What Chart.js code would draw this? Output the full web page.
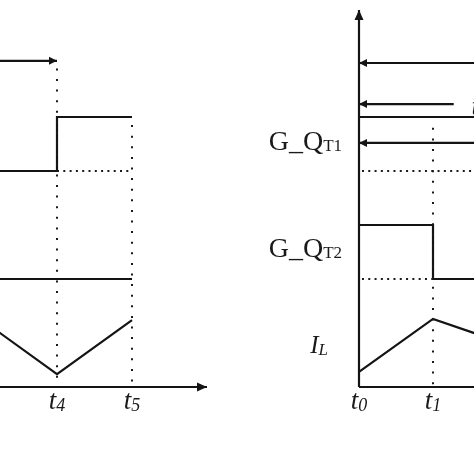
<!DOCTYPE html>
<html>
<head>
<meta charset="utf-8">
<script src="https://cdn.jsdelivr.net/npm/chart.js@4/dist/chart.umd.min.js"></script>
<style>
html,body{margin:0;padding:0;background:#fff;}
#wrap{width:474px;height:474px;}
canvas{display:block;}
</style>
</head>
<body>
<div id="wrap"><canvas id="c" width="474" height="474"></canvas></div>
<script>
// ---------- data (time in switching instants, level in signal units) ----------
// left diagram (ends at t5)
const leftT      = [3, 4, 5];            // t3, t4, t5
const leftGQT1   = [4, 5, 5];            // G_QT1 level at each instant (step)
const leftGQT2   = [2, 2, 2];            // G_QT2 level
const leftIL     = [1.24, 0.24, 1.24];   // inductor current
const leftTicks  = [4, 5];
const leftTickLabels = ['4', '5'];
// right diagram (starts at t0)
const rightT     = [0, 1, 2];            // t0, t1, t2
const rightGQT1  = [5, 5, 5];
const rightGQT2  = [3, 2, 2];
const rightIL    = [0.28, 1.26, 0.79];
const rightTicks = [0, 1];
const rightTickLabels = ['0', '1'];
// annotation arrows  [level, from, to]
const leftArrowLevels  = [6.04];
const leftArrowFrom    = [3];
const leftArrowTo      = [4];
const rightArrowLevels = [6.0, 5.24, 4.52];
const rightArrowFrom   = [2, 1.28, 2];
const rightArrowTo     = [0, 0, 0];
// dotted guides
const leftVGuideT    = [4, 5];
const leftVGuideTop  = [5.9, 4.85];
const leftVGuideBot  = [0.17, 0.1];
const leftHGuideLevel = [4];
const leftHGuideFrom  = [4];
const leftHGuideTo    = [5];
const rightVGuideT    = [1];
const rightVGuideTop  = [4.8];
const rightVGuideBot  = [0.04];
const rightHGuideLevel = [4, 2];
const rightHGuideFrom  = [0.04, 0.04];
const rightHGuideTo    = [2, 1];
// signal names
const signalNames = [['G_Q','T1'], ['G_Q','T2'], ['I','L']];
const signalNameLevel = [4.39, 2.41, 0.63];

// ---------- build datasets ----------
const INK = '#141414';
const ds = [];
function pts(xs, ys){ return xs.map((x,i)=>({x:x, y:ys[i]})); }
function solid(axis, data, extra){
  ds.push(Object.assign({xAxisID:axis, yAxisID:'y', data:data, borderColor:INK, borderWidth:2.2,
    pointRadius:0, fill:false, tension:0, borderCapStyle:'butt', borderJoinStyle:'miter'}, extra||{}));
}
function dotted(axis, data, dash){
  ds.push({xAxisID:axis, yAxisID:'y', data:data, borderColor:'#1a1a1a', borderWidth:2,
    pointRadius:0, fill:false, borderDash:dash, borderCapStyle:'butt'});
}
// dotted guides first (under the lines)
leftVGuideT.forEach((t,i)=>dotted('xL', [{x:t,y:leftVGuideTop[i]},{x:t,y:leftVGuideBot[i]}], [2,8.6]));
leftHGuideLevel.forEach((l,i)=>dotted('xL', [{x:leftHGuideFrom[i],y:l},{x:leftHGuideTo[i],y:l}], [2,4.3]));
rightVGuideT.forEach((t,i)=>dotted('xR', [{x:t,y:rightVGuideTop[i]},{x:t,y:rightVGuideBot[i]}], [2,8.6]));
rightHGuideLevel.forEach((l,i)=>dotted('xR', [{x:rightHGuideFrom[i],y:l},{x:rightHGuideTo[i],y:l}], [2,4.3]));
// signals
solid('xL', pts(leftT, leftGQT1), {stepped:'before'});
solid('xL', pts(leftT, leftGQT2), {stepped:'before'});
solid('xL', pts(leftT, leftIL));
solid('xR', pts(rightT, rightGQT1), {stepped:'before'});
solid('xR', pts(rightT, rightGQT2), {stepped:'before'});
solid('xR', pts(rightT, rightIL));
// axes
solid('xL', [{x:3,y:0},{x:6,y:0}], {arrow:{len:10, wid:9}});
solid('xR', [{x:0,y:0},{x:2,y:0}]);
solid('xR', [{x:0,y:0},{x:0,y:6.98}], {arrow:{len:10, wid:9}});
// annotation arrows
leftArrowLevels.forEach((l,i)=>solid('xL', [{x:leftArrowFrom[i],y:l},{x:leftArrowTo[i],y:l}], {arrow:{len:8, wid:8}}));
rightArrowLevels.forEach((l,i)=>solid('xR', [{x:rightArrowFrom[i],y:l},{x:rightArrowTo[i],y:l}], {arrow:{len:8, wid:8}}));

// ---------- plugins ----------
const arrowPlugin = {
  id:'arrowheads',
  afterDatasetsDraw(chart){
    const ctx = chart.ctx;
    chart.data.datasets.forEach((d,i)=>{
      if(!d.arrow) return;
      const p = chart.getDatasetMeta(i).data;
      const a = p[p.length-1], b = p[p.length-2];
      const ang = Math.atan2(a.y-b.y, a.x-b.x);
      const cx = Math.cos(ang), sy = Math.sin(ang);
      const bx = a.x - d.arrow.len*cx, by = a.y - d.arrow.len*sy;
      const h = d.arrow.wid/2;
      ctx.save();
      ctx.fillStyle = INK;
      ctx.beginPath();
      ctx.moveTo(a.x, a.y);
      ctx.lineTo(bx - h*sy, by + h*cx);
      ctx.lineTo(bx + h*sy, by - h*cx);
      ctx.closePath();
      ctx.fill();
      ctx.restore();
    });
  }
};
function subText(ctx, x, y, main, sub, f1, f2, center, dy){
  ctx.font = f1; const w1 = ctx.measureText(main).width;
  ctx.font = f2; const w2 = ctx.measureText(sub).width;
  const x0 = center ? x - (w1+w2)/2 : x;
  ctx.font = f1; ctx.fillText(main, x0, y);
  ctx.font = f2; ctx.fillText(sub, x0 + w1, y + dy);
}
const labelPlugin = {
  id:'labels',
  afterDraw(chart){
    const ctx = chart.ctx, xL = chart.scales.xL, xR = chart.scales.xR, y = chart.scales.y;
    ctx.save();
    ctx.fillStyle = '#1a1a1a';
    ctx.textBaseline = 'alphabetic';
    ctx.textAlign = 'left';
    const serif = '"Liberation Serif", "DejaVu Serif", serif';
    const tY = y.getPixelForValue(-0.41);
    leftTicks.forEach((t,i)=>subText(ctx, xL.getPixelForValue(t), tY, 't', leftTickLabels[i],
      'italic 27px '+serif, 'italic 18px '+serif, true, 2));
    rightTicks.forEach((t,i)=>subText(ctx, xR.getPixelForValue(t), tY, 't', rightTickLabels[i],
      'italic 27px '+serif, 'italic 18px '+serif, true, 2));
    // signal names
    const nx = xR.getPixelForValue(-1.22);
    subText(ctx, nx, y.getPixelForValue(signalNameLevel[0]), signalNames[0][0], signalNames[0][1],
      '28px '+serif, '17px '+serif, false, 1);
    subText(ctx, nx, y.getPixelForValue(signalNameLevel[1]), signalNames[1][0], signalNames[1][1],
      '28px '+serif, '17px '+serif, false, 1);
    subText(ctx, xR.getPixelForValue(-0.66), y.getPixelForValue(signalNameLevel[2]), signalNames[2][0], signalNames[2][1],
      'italic 25px '+serif, 'italic 17px '+serif, false, 2);
    // clipped interval label at top right
    ctx.font = 'italic 27px '+serif;
    ctx.fillText('t', xR.getPixelForValue(1.52), y.getPixelForValue(5.04));
    ctx.restore();
  }
};

// ---------- chart ----------
const W = 474;
new Chart(document.getElementById('c'), {
  type:'line',
  data:{datasets:ds},
  options:{
    responsive:false, animation:false, devicePixelRatio:1,
    layout:{padding:0},
    plugins:{legend:{display:false}, tooltip:{enabled:false}},
    events:[],
    scales:{
      xL:{type:'linear', display:false, min:4-57/75, max:4-57/75+W/75},
      xR:{type:'linear', display:false, min:-359/74, max:-359/74+W/74},
      y:{type:'linear', display:false, min:(387-W)/54, max:387/54}
    }
  },
  plugins:[arrowPlugin, labelPlugin]
});
</script>
</body>
</html>
